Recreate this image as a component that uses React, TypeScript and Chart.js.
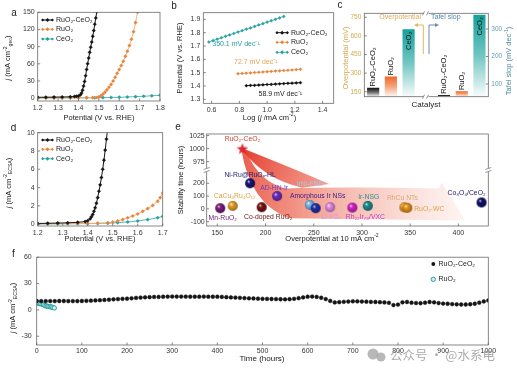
import React, { useEffect, useRef } from 'react';
import { Chart, registerables } from 'chart.js';

Chart.register(...registerables);

const FONT = '"Liberation Sans", Arial, Helvetica, sans-serif';
const INK = '#222222';
const BLACK = '#151515';
const ORANGE = '#e8843a';
const ORANGE_LINE = '#f3b37a';
const TEAL = '#27a0a0';
const TEAL_LINE = '#5cbcbc';
const FRAME = '#6a6a6a';

// ===== shared =====
const seriesNames = ['RuO₂-CeO₂', 'RuO₂', 'CeO₂'];

// ===== a: LSV (geometric area) =====
const aTicksX = [1.2, 1.3, 1.4, 1.5, 1.6, 1.7, 1.8];
const aTicksY = [0, 30, 60, 90, 120, 150];
const aPotRC = [1.20, 1.24, 1.28, 1.32, 1.36, 1.38, 1.39, 1.40, 1.41, 1.415, 1.42, 1.425, 1.43, 1.435, 1.44, 1.445, 1.45, 1.455, 1.46, 1.465, 1.47, 1.475, 1.48, 1.485, 1.49];
const aJRC = [1.5, 1.6, 1.8, 2.0, 2.3, 2.8, 3.2, 3.8, 6, 9, 14, 21, 29, 39, 50, 60, 70, 80, 89, 98, 108, 118, 129, 140, 151];
const aPotRu = [1.20, 1.24, 1.28, 1.32, 1.36, 1.40, 1.44, 1.47, 1.49, 1.50, 1.51, 1.52, 1.53, 1.54, 1.55, 1.56, 1.57, 1.58, 1.59, 1.60, 1.61, 1.62, 1.63, 1.64, 1.65, 1.66, 1.67, 1.68, 1.69];
const aJRu = [0.4, 0.4, 0.5, 0.5, 0.6, 0.6, 0.7, 0.9, 1.2, 2, 4, 7, 10.5, 14.5, 19, 24, 30, 36.5, 43.5, 50, 57, 64.5, 73, 82, 92, 103, 116, 132, 150];
const aPotCe = [1.20, 1.24, 1.28, 1.32, 1.36, 1.40, 1.44, 1.48, 1.52, 1.56, 1.60, 1.64, 1.68, 1.72, 1.76, 1.80];
const aJCe = [0.3, 0.3, 0.3, 0.4, 0.4, 0.5, 0.6, 0.7, 0.9, 1.2, 1.5, 2.0, 2.6, 3.3, 4.1, 5.0];

// ===== b: Tafel =====
const bTicksX = [0.6, 0.8, 1.0, 1.2, 1.4];
const bTicksY = [1.3, 1.4, 1.5, 1.6, 1.7, 1.8, 1.9];
const bLogRC = [0.85, 0.88, 0.91, 0.94, 0.97, 1.00, 1.03, 1.06, 1.09, 1.12, 1.15, 1.18, 1.21, 1.24];
const bPotRC = [1.402, 1.404, 1.405, 1.407, 1.409, 1.411, 1.412, 1.414, 1.416, 1.418, 1.420, 1.421, 1.423, 1.425];
const bLogRu = [0.79, 0.82, 0.85, 0.88, 0.91, 0.94, 0.97, 1.00, 1.03, 1.06, 1.09, 1.12, 1.15, 1.18, 1.21, 1.24];
const bPotRu = [1.492, 1.494, 1.496, 1.498, 1.501, 1.503, 1.505, 1.507, 1.509, 1.512, 1.514, 1.516, 1.518, 1.520, 1.523, 1.525];
const bLogCe = [0.58, 0.61, 0.64, 0.67, 0.70, 0.73, 0.76, 0.79, 0.82, 0.85, 0.88, 0.91, 0.94, 0.97, 1.00, 1.03, 1.06, 1.09, 1.12];
const bPotCe = [1.730, 1.741, 1.751, 1.762, 1.773, 1.783, 1.794, 1.805, 1.815, 1.826, 1.836, 1.847, 1.858, 1.868, 1.879, 1.890, 1.900, 1.911, 1.922];
const bSlopes = ['58.9 mV dec⁻¹', '72.7 mV dec⁻¹', '350.1 mV dec⁻¹'];

// ===== c: overpotential & Tafel slope bars =====
const cCatalysts = ['RuO₂-CeO₂', 'RuO₂', 'CeO₂'];
const cOverpotential = [180, 270, 650];
const cTafel = [58.9, 72.7, 350.1];
const cTicksL = [150, 300, 450, 600, 750];
const cTicksR = [100, 200, 300];

// ===== d: LSV (ECSA normalised) =====
const dTicksX = [1.2, 1.3, 1.4, 1.5, 1.6, 1.7];
const dTicksY = [0, 2, 4, 6, 8, 10];
const dPotRC = [1.20, 1.24, 1.28, 1.32, 1.36, 1.39, 1.40, 1.41, 1.415, 1.42, 1.425, 1.43, 1.435, 1.44, 1.445, 1.45, 1.455, 1.46, 1.465, 1.47, 1.475, 1.48];
const dJRC = [0.08, 0.1, 0.12, 0.15, 0.2, 0.28, 0.38, 0.6, 0.8, 1.05, 1.4, 1.8, 2.3, 2.9, 3.6, 4.3, 5.1, 6.0, 7.0, 8.1, 9.3, 10.5];
const dPotRu = [1.20, 1.24, 1.28, 1.32, 1.36, 1.40, 1.44, 1.48, 1.50, 1.52, 1.54, 1.56, 1.58, 1.60, 1.62, 1.64, 1.66, 1.68, 1.69, 1.70];
const dJRu = [0.05, 0.05, 0.06, 0.06, 0.07, 0.08, 0.1, 0.15, 0.22, 0.35, 0.5, 0.7, 0.9, 1.12, 1.4, 1.7, 2.05, 2.5, 2.9, 3.4];
const dPotCe = [1.20, 1.24, 1.28, 1.32, 1.36, 1.40, 1.44, 1.48, 1.52, 1.56, 1.60, 1.64, 1.68, 1.70];
const dJCe = [0.02, 0.03, 0.03, 0.04, 0.05, 0.06, 0.08, 0.11, 0.16, 0.24, 0.35, 0.5, 0.7, 0.85];

// ===== e: stability vs overpotential comparison =====
const eTicksX = [150, 200, 250, 300, 350, 400];
const eTicksYLow = [-100, 0, 100, 200];
const eTicksYHigh = [975, 1000, 1025];
const eStarName = 'RuO₂-CeO₂';
const eStarOverpot = 176;
const eStarHours = 1000;
const eNames = ['Mn-RuO₂', 'CaCu₃Ru₄O₁₂', 'Ni-Ru@RuOₓ-HL', 'Co-doped RuO₂', 'AD-HN-Ir', 'IrNi-FNS', 'Amorphous Ir NSs', 'Li-IrOₓ', 'Rh₂₂Ir₇₈/VXC', 'Ir-NSG', 'RhCu NTs', 'RuO₂-WC', 'Co₃O₄/CeO₂'];
const eOverpot = [153, 166, 184, 196, 212, 246, 252, 267, 290, 306, 344, 347, 424];
const eHours = [5, 23, 200, 13, 100, 31, 5, 13, 10, 23, 12, 8, 50];
const eBallColors = ['#7b1d7e', '#e8a128', '#17177a', '#7a1212', '#6b2fc2', '#79b8e8', '#1f2fa8', '#e58ae8', '#d525c8', '#1c8e8e', '#e8951e', '#e8951e', '#0f0f6a'];
const eLabelColors = ['#6d1f6d', '#e0a040', '#1c1c70', '#6a1515', '#7a35c8', '#a6c8e6', '#3a1c8a', '#d892e0', '#c43ac4', '#2e8f8f', '#d9a870', '#e0a040', '#1a1a6a'];
const eLabelOffsets = [[2.5, 10], [2, -9.5], [0, -8.5], [6.5, 10], [-3, -8], [0, -20.5], [2, -12], [1, 10], [13, 9.5], [1, -9], [-2, -9], [22, 1.5], [-15, -9]];
// decorative sweep arrows, in (overpotential, low-axis hours) units
const eArrowUpper = [[176, 474], [228, 318], [266, 195], [238, 165], [200, 230], [178, 440]];
const eArrowLower = [[175, 461], [184, 45], [224, -73], [407, -91], [383, 205], [379, 160], [286, 175], [220, 160], [193, 215], [180, 448]];

// ===== f: chronopotentiometry =====
const fTicksX = [0, 100, 200, 300, 400, 500, 600, 700, 800, 900, 1000];
const fTicksY = [-30, 0, 30, 60];
const fTimeRC = [0, 10, 20, 30, 40, 50, 60, 70, 80, 90, 100, 110, 120, 130, 140, 150, 160, 170, 180, 190, 200, 210, 220, 230, 240, 250, 260, 270, 280, 290, 300, 310, 320, 330, 340, 350, 360, 370, 380, 390, 400, 410, 420, 430, 440, 450, 460, 470, 480, 490, 500, 510, 520, 530, 540, 550, 560, 570, 580, 590, 600, 610, 620, 630, 640, 650, 660, 670, 680, 690, 700, 710, 720, 730, 740, 750, 760, 770, 780, 790, 800, 810, 820, 830, 840, 850, 860, 870, 880, 890, 900, 910, 920, 930, 940, 950, 960, 970, 980, 990, 1000];
const fJRC = [10.1, 10, 10, 10, 10, 10.1, 10.1, 10, 10, 10, 10.1, 10.3, 10.5, 10.8, 11, 11.3, 11.6, 12, 12.3, 12.6, 12.8, 13.2, 13.6, 14, 14.3, 14.5, 14.7, 14.8, 15, 15.1, 15.2, 15.2, 15.1, 15.1, 15, 15, 15, 15.1, 15, 15, 15, 14.8, 14.5, 14.2, 14, 13.7, 13.4, 13.2, 13, 12.8, 12.6, 12.5, 12.4, 12.3, 12.1, 12, 12.2, 12.6, 13.3, 14.2, 15, 15.2, 14.8, 13.8, 12.3, 10.2, 8.5, 8.8, 9.2, 9.5, 9.8, 9.7, 9.5, 9.3, 9.1, 9, 8.8, 8.5, 8, 5.5, 6, 8.6, 9, 8.2, 7.8, 7.6, 8.2, 9, 8.6, 7.8, 7.2, 7, 6.6, 6.3, 6.1, 6.1, 6.4, 7, 8.2, 9.6, 10.8];
const fTimeRu = [0, 3, 6, 9, 12, 15, 18, 21, 24, 27, 30, 33, 36, 39];
const fJRu = [9, 7.5, 7.2, 7, 6.5, 5.8, 5, 4.5, 4, 3.8, 3.5, 3.2, 2.8, 2.2];
const watermark = '公众号 · @水系电';

// ===== layout (page pixels) =====
type Frame = { x: number; y: number; w: number; h: number };
type Area = { l: number; t: number; r: number; b: number };
const FR: Record<string, Frame> = {
  a: { x: 0, y: 0, w: 172, h: 124 },
  b: { x: 172, y: 0, w: 166, h: 124 },
  c: { x: 338, y: 0, w: 179, h: 124 },
  d: { x: 0, y: 124, w: 172, h: 124 },
  e: { x: 172, y: 124, w: 345, h: 124 },
  f: { x: 0, y: 248, w: 517, h: 127 },
};
const AR: Record<string, Area> = {
  a: { l: 37.7, t: 12.3, r: 160, b: 101 },
  b: { l: 203.3, t: 12.7, r: 335.7, b: 103.3 },
  c: { l: 364.3, t: 13.3, r: 488.3, b: 96.7 },
  d: { l: 37.7, t: 132.7, r: 162.7, b: 226 },
  e: { l: 206.7, t: 134, r: 488.3, b: 226 },
  f: { l: 36.7, t: 253.3, r: 488.3, b: 345 },
};

const layoutFor = (k: string, rightAxis = false) => ({
  padding: { left: 0, top: AR[k].t - FR[k].y, right: rightAxis ? 0 : FR[k].x + FR[k].w - AR[k].r, bottom: 0 },
});
const yFit = (k: string) => (s: any) => { s.width = AR[k].l - FR[k].x; };
const yRFit = (k: string) => (s: any) => { s.width = FR[k].x + FR[k].w - AR[k].r; };
const xFit = (k: string) => (s: any) => { s.height = FR[k].y + FR[k].h - AR[k].b; };

function lin(min: number, max: number, ticks: number[], fmt: (v: number) => string, extra: any = {}, color = '#333', size = 7, pad = 3) {
  return {
    type: 'linear',
    min,
    max,
    grid: { display: false, drawTicks: false },
    border: { display: false },
    ticks: { font: { family: FONT, size }, color, padding: pad, autoSkip: false, maxRotation: 0, callback: (v: any) => fmt(Number(v)) },
    afterBuildTicks: (s: any) => { s.ticks = ticks.map((v) => ({ value: v })); },
    ...extra,
  };
}

// ===== drawing helpers =====
function txt(ctx: CanvasRenderingContext2D, s: string, x: number, y: number, o: any = {}) {
  ctx.save();
  ctx.translate(x, y);
  if (o.rot) ctx.rotate(o.rot);
  ctx.font = `${o.style || ''} ${o.weight || ''} ${o.size || 7}px ${o.family || FONT}`;
  ctx.fillStyle = o.color || INK;
  ctx.textAlign = o.align || 'center';
  ctx.textBaseline = o.base || 'middle';
  ctx.fillText(s, 0, 0);
  ctx.restore();
}

type Seg = [string, string?];
function rich(ctx: CanvasRenderingContext2D, segs: Seg[], x: number, y: number, size: number, color: string, rot = 0) {
  ctx.save();
  ctx.translate(x, y);
  ctx.rotate(rot);
  const fontOf = (m?: string) => `${m === 'i' ? 'italic ' : ''}${m === 'sup' || m === 'sub' ? size * 0.68 : size}px ${FONT}`;
  let w = 0;
  for (const [t, m] of segs) { ctx.font = fontOf(m); w += ctx.measureText(t).width; }
  let cx = -w / 2;
  ctx.fillStyle = color;
  ctx.textAlign = 'left';
  ctx.textBaseline = 'middle';
  for (const [t, m] of segs) {
    ctx.font = fontOf(m);
    const dy = m === 'sup' ? -size * 0.35 : m === 'sub' ? size * 0.3 : 0;
    ctx.fillText(t, cx, dy);
    cx += ctx.measureText(t).width;
  }
  ctx.restore();
}

function seg(ctx: CanvasRenderingContext2D, x1: number, y1: number, x2: number, y2: number) {
  ctx.beginPath(); ctx.moveTo(x1, y1); ctx.lineTo(x2, y2); ctx.stroke();
}

function diamond(ctx: CanvasRenderingContext2D, x: number, y: number, r: number, color: string) {
  ctx.beginPath(); ctx.moveTo(x, y - r); ctx.lineTo(x + r, y); ctx.lineTo(x, y + r); ctx.lineTo(x - r, y); ctx.closePath();
  ctx.fillStyle = color; ctx.fill();
}

function legendLines(ctx: CanvasRenderingContext2D, x0: number, x1: number, tx: number, ys: number[], lines: string[], marks: string[]) {
  ys.forEach((y, i) => {
    ctx.strokeStyle = lines[i]; ctx.lineWidth = 1;
    seg(ctx, x0, y, x1, y);
    diamond(ctx, (x0 + x1) / 2, y, 2, marks[i]);
    diamond(ctx, x0 + 1, y, 1.6, marks[i]);
    diamond(ctx, x1 - 1, y, 1.6, marks[i]);
    txt(ctx, seriesNames[i], tx, y, { align: 'left', size: 7 });
  });
}

// frame + inward ticks (chart-local coordinates)
function framePlugin(xId: string | null, yIds: string[], rId: string | null = null) {
  return {
    id: 'frame',
    afterDatasetsDraw(chart: any) {
      const { ctx, chartArea: ca } = chart;
      ctx.save();
      ctx.strokeStyle = FRAME; ctx.lineWidth = 0.8;
      ctx.strokeRect(ca.left, ca.top, ca.right - ca.left, ca.bottom - ca.top);
      if (xId) {
        const s = chart.scales[xId];
        for (const t of s.ticks) { const p = s.getPixelForValue(t.value); seg(ctx, p, ca.bottom, p, ca.bottom - 2.5); }
      }
      for (const id of yIds) {
        const s = chart.scales[id];
        for (const t of s.ticks) { const p = s.getPixelForValue(t.value); seg(ctx, ca.left, p, ca.left + 2.5, p); }
      }
      if (rId) {
        const s = chart.scales[rId];
        for (const t of s.ticks) { const p = s.getPixelForValue(t.value); seg(ctx, ca.right, p, ca.right - 2.5, p); }
      }
      ctx.restore();
    },
  };
}

// decorations in page coordinates
function deco(k: string, after?: (ctx: CanvasRenderingContext2D, chart: any) => void, before?: (ctx: CanvasRenderingContext2D, chart: any) => void) {
  const f = FR[k];
  return {
    id: 'deco' + k,
    beforeDatasetsDraw(chart: any) {
      if (!before) return;
      const c = chart.ctx; c.save(); c.translate(-f.x, -f.y); before(c, chart); c.restore();
    },
    afterDraw(chart: any) {
      if (!after) return;
      const c = chart.ctx; c.save(); c.translate(-f.x, -f.y); after(c, chart); c.restore();
    },
  };
}

function lineDs(label: string, xs: number[], ys: number[], line: string, mark: string, r = 1.8) {
  return {
    label,
    data: xs.map((x, i) => ({ x, y: ys[i] })),
    borderColor: line,
    backgroundColor: mark,
    pointBackgroundColor: mark,
    pointBorderColor: mark,
    pointStyle: 'rectRot',
    pointRadius: r,
    pointBorderWidth: 0.3,
    borderWidth: 1,
    tension: 0,
    showLine: true,
  };
}

const baseOpts = (k: string, rightAxis = false) => ({
  animation: false,
  responsive: false,
  maintainAspectRatio: false,
  devicePixelRatio: 1,
  events: [],
  layout: layoutFor(k, rightAxis),
  plugins: { legend: { display: false }, tooltip: { enabled: false } },
});

const fmt1 = (v: number) => v.toFixed(1);
const fmt0 = (v: number) => String(Math.round(v));

const titleJ = (sub: string): Seg[] => [['j', 'i'], [' (mA cm'], ['-2', 'sup'], [sub, 'sub'], [')']];

function cfgA(): any {
  const k = 'a';
  return {
    type: 'line',
    data: {
      datasets: [
        lineDs(seriesNames[0], aPotRC, aJRC, BLACK, BLACK),
        lineDs(seriesNames[1], aPotRu, aJRu, ORANGE_LINE, ORANGE),
        lineDs(seriesNames[2], aPotCe, aJCe, TEAL_LINE, TEAL),
      ],
    },
    options: {
      ...baseOpts(k),
      scales: {
        x: lin(1.2, 1.8, aTicksX, fmt1, { afterFit: xFit(k) }),
        y: lin(-5, 150, aTicksY, fmt0, { afterFit: yFit(k) }),
      },
    },
    plugins: [
      framePlugin('x', ['y']),
      deco(k, (ctx) => {
        txt(ctx, 'a', 14, 13, { size: 10 });
        legendLines(ctx, 41.7, 53.3, 56, [20, 29.3, 39], [BLACK, ORANGE_LINE, TEAL_LINE], [BLACK, ORANGE, TEAL]);
        rich(ctx, [['Potential (V vs. RHE)']], 99, 117.5, 7.5, INK);
        rich(ctx, titleJ('geo'), 8, 58, 7.5, INK, -Math.PI / 2);
      }),
    ],
  };
}

function cfgB(): any {
  const k = 'b';
  return {
    type: 'line',
    data: {
      datasets: [
        lineDs(seriesNames[0], bLogRC, bPotRC, BLACK, BLACK, 1.6),
        lineDs(seriesNames[1], bLogRu, bPotRu, ORANGE_LINE, ORANGE, 1.6),
        lineDs(seriesNames[2], bLogCe, bPotCe, TEAL_LINE, TEAL, 1.6),
      ],
    },
    options: {
      ...baseOpts(k),
      scales: {
        x: lin(0.54, 1.48, bTicksX, fmt1, { afterFit: xFit(k) }),
        y: lin(1.27, 1.95, bTicksY, fmt1, { afterFit: yFit(k) }),
      },
    },
    plugins: [
      framePlugin('x', ['y']),
      deco(k, (ctx) => {
        txt(ctx, 'b', 174, 6, { size: 10 });
        legendLines(ctx, 276, 288.3, 291, [32.7, 42.3, 52.3], [BLACK, ORANGE_LINE, TEAL_LINE], [BLACK, ORANGE, TEAL]);
        txt(ctx, bSlopes[2], 236, 44, { size: 7, color: TEAL });
        txt(ctx, bSlopes[1], 255.8, 62.3, { size: 7, color: '#e8a050' });
        txt(ctx, bSlopes[0], 280.3, 94, { size: 7, color: INK });
        rich(ctx, [['Log ('], ['j', 'i'], [' /mA cm'], ['-2', 'sup'], [')']], 269.5, 117.5, 7.5, INK);
        rich(ctx, [['Potential (V vs. RHE)']], 180, 58, 7.5, INK, -Math.PI / 2);
      }),
    ],
  };
}

function hexA(hex: string, a: number) {
  const n = parseInt(hex.slice(1), 16);
  return `rgba(${(n >> 16) & 255},${(n >> 8) & 255},${n & 255},${a})`;
}

function cfgC(): any {
  const k = 'c';
  const barCols = ['#141414', '#ef6a28', '#14a19b'];
  const labels = [...cCatalysts, '', ...cCatalysts];
  const colOf = (i: number) => barCols[i % 4 === 3 ? 0 : i < 3 ? i : i - 4];
  const grad = (context: any) => {
    const chart = context.chart;
    const ca = chart.chartArea;
    const i = context.dataIndex;
    const col = colOf(i);
    const ds = context.dataset;
    const v = ds.data[i];
    if (!ca || v == null) return col;
    const top = chart.scales[ds.yAxisID].getPixelForValue(v);
    const g = chart.ctx.createLinearGradient(0, Math.max(top, ca.top), 0, ca.bottom);
    g.addColorStop(0, hexA(col, 1));
    g.addColorStop(0.5, hexA(col, 0.6));
    g.addColorStop(1, hexA(col, 0.03));
    return g;
  };
  const insideLabel = (v: number, axis: string) => (axis === 'yL' ? v > 500 : v > 300);
  return {
    type: 'bar',
    data: {
      labels,
      datasets: [
        { label: 'Overpotential', data: [...cOverpotential, null, null, null, null], yAxisID: 'yL', grouped: false, barThickness: 11.5, backgroundColor: grad, borderWidth: 0 },
        { label: 'Tafel slop', data: [null, null, null, null, ...cTafel], yAxisID: 'yR', grouped: false, barThickness: 11.5, backgroundColor: grad, borderWidth: 0 },
      ],
    },
    options: {
      ...baseOpts(k, true),
      scales: {
        x: { type: 'category', grid: { display: false }, border: { display: false }, ticks: { display: false }, afterFit: xFit(k) },
        yL: lin(110, 782, cTicksL, fmt0, { position: 'left', afterFit: yFit(k) }, '#d4a94e', 6.5),
        yR: lin(54, 357, cTicksR, fmt0, { position: 'right', afterFit: yRFit(k) }, '#5f9fb0', 6.5),
      },
    },
    plugins: [
      framePlugin(null, ['yL'], 'yR'),
      {
        id: 'barLabels',
        afterDatasetsDraw(chart: any) {
          const ctx = chart.ctx;
          chart.data.datasets.forEach((ds: any, di: number) => {
            const meta = chart.getDatasetMeta(di);
            meta.data.forEach((el: any, i: number) => {
              const v = ds.data[i];
              if (v == null) return;
              const inside = insideLabel(v, ds.yAxisID);
              const y = Math.max(el.y, chart.chartArea.top);
              txt(ctx, labels[i], el.x, inside ? y + 2 : y - 1.5, { rot: -Math.PI / 2, align: inside ? 'right' : 'left', size: 7.5, color: '#111' });
            });
          });
        },
      },
      deco(k, (ctx) => {
        txt(ctx, 'c', 340, 5, { size: 10 });
        // axis break marks
        for (const y of [13.3, 96.7]) {
          ctx.fillStyle = '#fff'; ctx.fillRect(423.5, y - 2, 5, 4);
          ctx.strokeStyle = '#666'; ctx.lineWidth = 0.7;
          seg(ctx, 422.5, y + 2, 424.5, y - 2);
          seg(ctx, 426.5, y + 2, 428.5, y - 2);
        }
        // arrows
        ctx.lineWidth = 1;
        ctx.strokeStyle = '#e0b860';
        seg(ctx, 423.3, 25, 423.3, 54);
        seg(ctx, 423.3, 25, 416, 25);
        ctx.fillStyle = '#e0b860';
        ctx.beginPath(); ctx.moveTo(414, 25); ctx.lineTo(418, 23); ctx.lineTo(418, 27); ctx.closePath(); ctx.fill();
        ctx.strokeStyle = '#6f8ea3';
        seg(ctx, 429, 25, 429, 54);
        seg(ctx, 429, 25, 437, 25);
        ctx.fillStyle = '#6f8ea3';
        ctx.beginPath(); ctx.moveTo(439, 25); ctx.lineTo(435, 23); ctx.lineTo(435, 27); ctx.closePath(); ctx.fill();
        txt(ctx, 'Overpotential', 421, 17.5, { align: 'right', size: 7, color: '#d9ae54' });
        txt(ctx, 'Tafel slop', 431, 17.5, { align: 'left', size: 7, color: '#4d87a8' });
        txt(ctx, 'Catalyst', 426, 105, { size: 8, color: INK });
        rich(ctx, [['Overpotential (mV)']], 345.5, 58, 7.5, '#d4a94e', -Math.PI / 2);
        rich(ctx, [['Tafel slop (mV dec'], ['-1', 'sup'], [')']], 509, 61, 7.5, '#4d8a9c', -Math.PI / 2);
      }),
    ],
  };
}

function cfgD(): any {
  const k = 'd';
  return {
    type: 'line',
    data: {
      datasets: [
        lineDs(seriesNames[0], dPotRC, dJRC, BLACK, BLACK),
        lineDs(seriesNames[1], dPotRu, dJRu, ORANGE_LINE, ORANGE),
        lineDs(seriesNames[2], dPotCe, dJCe, TEAL_LINE, TEAL),
      ],
    },
    options: {
      ...baseOpts(k),
      scales: {
        x: lin(1.2, 1.7, dTicksX, fmt1, { afterFit: xFit(k) }),
        y: lin(-0.2, 10, dTicksY, fmt0, { afterFit: yFit(k) }),
      },
    },
    plugins: [
      framePlugin('x', ['y']),
      deco(k, (ctx) => {
        txt(ctx, 'd', 13.5, 128.5, { size: 10 });
        legendLines(ctx, 41.7, 53.3, 56, [140, 149.3, 158.7], [BLACK, ORANGE_LINE, TEAL_LINE], [BLACK, ORANGE, TEAL]);
        rich(ctx, [['Potential (V vs. RHE)']], 100, 238.5, 7.5, INK);
        rich(ctx, titleJ('ECSA'), 8.5, 183, 7.5, INK, -Math.PI / 2);
      }),
    ],
  };
}

function sphereCanvas(r: number, color: string) {
  const s = Math.ceil(r * 2 + 2);
  const c = document.createElement('canvas');
  c.width = s; c.height = s;
  const g = c.getContext('2d')!;
  const cx = s / 2, cy = s / 2;
  let gr = g.createRadialGradient(cx - r * 0.35, cy - r * 0.4, 0, cx, cy, r);
  gr.addColorStop(0, 'rgba(255,255,255,0.95)');
  gr.addColorStop(0.32, color);
  gr.addColorStop(1, color);
  g.fillStyle = gr; g.beginPath(); g.arc(cx, cy, r, 0, Math.PI * 2); g.fill();
  gr = g.createRadialGradient(cx - r * 0.3, cy - r * 0.3, r * 0.4, cx, cy, r);
  gr.addColorStop(0, 'rgba(0,0,0,0)');
  gr.addColorStop(1, 'rgba(0,0,0,0.35)');
  g.fillStyle = gr; g.beginPath(); g.arc(cx, cy, r, 0, Math.PI * 2); g.fill();
  return c;
}

function starCanvas(r: number, color: string) {
  const s = Math.ceil(r * 2 + 2);
  const c = document.createElement('canvas');
  c.width = s; c.height = s;
  const g = c.getContext('2d')!;
  g.translate(s / 2, s / 2 + r * 0.1);
  g.beginPath();
  for (let i = 0; i < 10; i++) {
    const rr = i % 2 === 0 ? r : r * 0.42;
    const a = -Math.PI / 2 + (i * Math.PI) / 5;
    g.lineTo(rr * Math.cos(a), rr * Math.sin(a));
  }
  g.closePath(); g.fillStyle = color; g.fill();
  return c;
}

function cfgE(): any {
  const k = 'e';
  const spheres = eBallColors.map((c) => sphereCanvas(5, c));
  const star = starCanvas(6, '#e3242b');
  const P = (chart: any, p: number[]) => [chart.scales.x.getPixelForValue(p[0]), chart.scales.y.getPixelForValue(p[1])];
  return {
    type: 'scatter',
    data: {
      datasets: [
        { label: eStarName, data: [{ x: eStarOverpot, y: eStarHours }], yAxisID: 'yTop', pointStyle: star, pointRadius: 6 },
        { label: 'Reported', data: eOverpot.map((x, i) => ({ x, y: eHours[i] })), yAxisID: 'y', pointStyle: spheres, pointRadius: 5 },
      ],
    },
    options: {
      ...baseOpts(k),
      scales: {
        x: lin(139, 431, eTicksX, fmt0, { afterFit: xFit(k) }),
        y: lin(-134, 304, eTicksYLow, fmt0, { position: 'left', stack: 'e', stackWeight: 56, afterFit: yFit(k) }, '#333', 7, 2),
        yTop: lin(959, 1028, eTicksYHigh, fmt0, { position: 'left', stack: 'e', stackWeight: 36, afterFit: yFit(k) }, '#333', 7, 2),
      },
    },
    plugins: [
      {
        id: 'arrows',
        beforeDatasetsDraw(chart: any) {
          const ctx = chart.ctx; const ca = chart.chartArea;
          ctx.save();
          ctx.beginPath(); ctx.rect(ca.left, ca.top, ca.right - ca.left, ca.bottom - ca.top); ctx.clip();
          // lower long sweep
          const L = eArrowLower.map((p) => P(chart, p));
          let g = ctx.createLinearGradient(L[0][0], 0, L[3][0], 0);
          g.addColorStop(0, 'rgba(232,78,58,0.9)');
          g.addColorStop(0.35, 'rgba(238,120,100,0.65)');
          g.addColorStop(1, 'rgba(248,200,190,0.2)');
          ctx.fillStyle = g;
          ctx.beginPath();
          ctx.moveTo(L[0][0], L[0][1]);
          ctx.quadraticCurveTo(L[1][0], L[1][1], L[2][0], L[2][1]);
          ctx.lineTo(L[3][0], L[3][1]);
          ctx.lineTo(L[4][0], L[4][1]);
          ctx.lineTo(L[5][0], L[5][1]);
          ctx.quadraticCurveTo(L[6][0], L[6][1], L[7][0], L[7][1]);
          ctx.quadraticCurveTo(L[8][0], L[8][1], L[9][0], L[9][1]);
          ctx.closePath(); ctx.fill();
          // upper short sweep
          const U = eArrowUpper.map((p) => P(chart, p));
          g = ctx.createLinearGradient(U[0][0], U[0][1], U[2][0], U[2][1]);
          g.addColorStop(0, 'rgba(226,52,36,0.95)');
          g.addColorStop(1, 'rgba(240,120,100,0.7)');
          ctx.fillStyle = g;
          ctx.beginPath();
          ctx.moveTo(U[0][0], U[0][1]);
          ctx.quadraticCurveTo(U[1][0], U[1][1], U[2][0], U[2][1]);
          ctx.lineTo(U[3][0], U[3][1]);
          ctx.quadraticCurveTo(U[4][0], U[4][1], U[5][0], U[5][1]);
          ctx.closePath(); ctx.fill();
          ctx.restore();
        },
      },
      framePlugin('x', ['yTop', 'y']),
      {
        id: 'eLabels',
        afterDatasetsDraw(chart: any) {
          const ctx = chart.ctx;
          const s = chart.getDatasetMeta(0).data[0];
          txt(ctx, eStarName, s.x, s.y - 9, { size: 6.8, color: '#d0402a' });
          chart.getDatasetMeta(1).data.forEach((el: any, i: number) => {
            const [dx, dy] = eLabelOffsets[i];
            txt(ctx, eNames[i], el.x + dx, el.y + dy, { size: 6.8, color: eLabelColors[i] });
          });
          // axis breaks
          const ca = chart.chartArea;
          const yb = chart.scales.y.top;
          for (const x of [ca.left, ca.right]) {
            ctx.fillStyle = '#fff'; ctx.fillRect(x - 3, yb - 2, 6, 4);
            ctx.strokeStyle = '#666'; ctx.lineWidth = 0.7;
            seg(ctx, x - 3, yb - 0.5, x + 3, yb - 2.5);
            seg(ctx, x - 3, yb + 2.5, x + 3, yb + 0.5);
          }
        },
      },
      deco(k, (ctx) => {
        txt(ctx, 'e', 178, 127.5, { size: 10 });
        rich(ctx, [['Overpotential at 10 mA cm'], ['-2', 'sup']], 332, 238.5, 7.5, INK);
        rich(ctx, [['Stability time (hours)']], 180.5, 180, 7.5, INK, -Math.PI / 2);
      }),
    ],
  };
}

function cfgF(): any {
  const k = 'f';
  return {
    type: 'scatter',
    data: {
      datasets: [
        { label: seriesNames[0], data: fTimeRC.map((x, i) => ({ x, y: fJRC[i] })), pointStyle: 'circle', pointRadius: 1.9, backgroundColor: BLACK, borderColor: BLACK, pointBorderWidth: 0.5 },
        { label: seriesNames[1], data: fTimeRu.map((x, i) => ({ x, y: fJRu[i] })), pointStyle: 'circle', pointRadius: 2.2, backgroundColor: '#cdeeee', borderColor: '#1f9a9a', pointBorderWidth: 0.9 },
      ],
    },
    options: {
      ...baseOpts(k),
      scales: {
        x: lin(0, 1000, fTicksX, fmt0, { afterFit: xFit(k) }, '#333', 7, 2),
        y: lin(-40, 60, fTicksY, fmt0, { afterFit: yFit(k) }, '#333', 7, 5),
      },
    },
    plugins: [
      framePlugin('x', ['y']),
      deco(k, (ctx) => {
        txt(ctx, 'f', 13.5, 254, { size: 10 });
        ctx.fillStyle = BLACK; ctx.beginPath(); ctx.arc(433.3, 264, 1.9, 0, Math.PI * 2); ctx.fill();
        txt(ctx, seriesNames[0], 438.5, 264, { align: 'left', size: 7 });
        ctx.fillStyle = '#cdeeee'; ctx.strokeStyle = '#1f9a9a'; ctx.lineWidth = 0.9;
        ctx.beginPath(); ctx.arc(433.3, 279.3, 2.2, 0, Math.PI * 2); ctx.fill(); ctx.stroke();
        txt(ctx, seriesNames[1], 438.5, 279.3, { align: 'left', size: 7 });
        rich(ctx, [['Time (hours)']], 262, 358.5, 8, INK);
        rich(ctx, titleJ('ECSA'), 13, 308, 7.5, INK, -Math.PI / 2);
        // watermark
        ctx.fillStyle = 'rgba(160,160,160,0.75)';
        ctx.beginPath(); ctx.arc(373, 354, 5.5, 0, Math.PI * 2); ctx.fill();
        ctx.beginPath(); ctx.arc(381, 357, 4.5, 0, Math.PI * 2); ctx.fill();
        txt(ctx, watermark, 390, 355, { align: 'left', size: 12.5, color: 'rgba(150,150,150,0.8)', family: '"Noto Sans CJK SC", sans-serif' });
      }),
    ],
  };
}

export default function App() {
  const ra = useRef<HTMLCanvasElement>(null);
  const rb = useRef<HTMLCanvasElement>(null);
  const rc = useRef<HTMLCanvasElement>(null);
  const rd = useRef<HTMLCanvasElement>(null);
  const re = useRef<HTMLCanvasElement>(null);
  const rf = useRef<HTMLCanvasElement>(null);
  const refs: Record<string, any> = { a: ra, b: rb, c: rc, d: rd, e: re, f: rf };

  useEffect(() => {
    const charts: Chart[] = [];
    const makers: Record<string, () => any> = { a: cfgA, b: cfgB, c: cfgC, d: cfgD, e: cfgE, f: cfgF };
    for (const k of Object.keys(makers)) {
      const el = refs[k].current;
      if (el) charts.push(new Chart(el, makers[k]()));
    }
    return () => charts.forEach((c) => c.destroy());
  }, []);

  return (
    <div style={{ position: 'absolute', left: 0, top: 0, width: 517, height: 375, background: '#fff', overflow: 'hidden' }}>
      {Object.keys(FR).map((k) => (
        <canvas
          key={k}
          ref={refs[k]}
          width={FR[k].w}
          height={FR[k].h}
          style={{ position: 'absolute', left: FR[k].x, top: FR[k].y, width: FR[k].w, height: FR[k].h }}
        />
      ))}
    </div>
  );
}
